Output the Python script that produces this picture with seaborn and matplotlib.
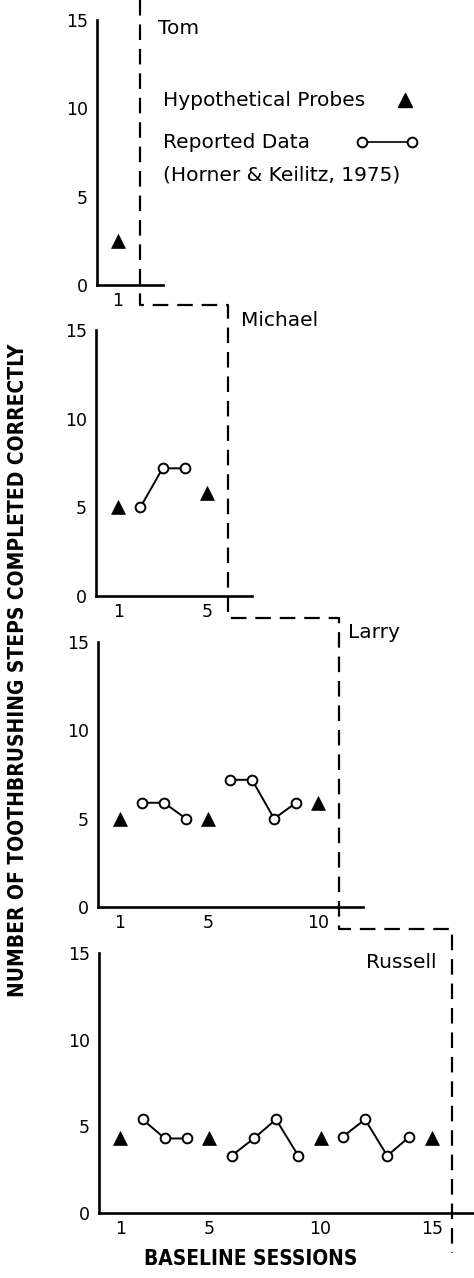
import matplotlib
matplotlib.use("Agg")
import numpy as np
import pandas as pd
import matplotlib.pyplot as plt
import seaborn as sns
from matplotlib.lines import Line2D
from matplotlib import font_manager

# ---------------- data ----------------
names = ["Tom", "Michael", "Larry", "Russell"]
probe_sessions = [[1], [1, 5], [1, 5, 10], [1, 5, 10, 15]]
probe_values = [[2.5], [5.0, 5.8], [5.0, 5.0, 5.9], [4.3, 4.3, 4.3, 4.3]]
reported_sessions = [
    [],
    [[2, 3, 4]],
    [[2, 3, 4], [6, 7, 8, 9]],
    [[2, 3, 4], [6, 7, 8, 9], [11, 12, 13, 14]],
]
reported_values = [
    [],
    [[5.0, 7.2, 7.2]],
    [[5.9, 5.9, 5.0], [7.2, 7.2, 5.0, 5.9]],
    [[5.4, 4.3, 4.3], [3.3, 4.3, 5.4, 3.3], [4.4, 5.4, 3.3, 4.4]],
]
phase_change = [1.97, 5.97, 10.95, 15.92]
x_ticks = [[1], [1, 5], [1, 5, 10], [1, 5, 10, 15]]
y_ticks = [0, 5, 10, 15]
ylabel_text = "NUMBER OF TOOTHBRUSHING STEPS COMPLETED CORRECTLY"
xlabel_text = "BASELINE SESSIONS"
legend_probe = "Hypothetical Probes"
legend_rep1 = "Reported Data"
legend_rep2 = "(Horner & Keilitz, 1975)"

# ---------------- style ----------------
sns.set_theme(style="white")
plt.rcParams["font.family"] = ["DejaVu Sans"]
plt.rcParams["axes.linewidth"] = 1.9

W, H = 474, 1278
fig = plt.figure(figsize=(W / 100, H / 100), dpi=100)


def fx(px):
    return px / W


def fy(py):
    return 1 - py / H


# condensed bold font search
def find_condensed_bold():
    best = None
    for f in font_manager.fontManager.ttflist:
        st = f.stretch
        cond = (isinstance(st, str) and "condensed" in st) or (isinstance(st, (int, float)) and st < 500)
        if "Narrow" in f.name or "Condensed" in f.name:
            cond = True
        if not cond:
            continue
        w = f.weight
        bold = (isinstance(w, str) and w in ("bold", "heavy", "black", "extra bold", "demibold", "semibold")) or (
            isinstance(w, (int, float)) and w >= 600)
        score = (2 if bold else 0) + (1 if f.style == "normal" else 0)
        if best is None or score > best[0]:
            best = (score, f)
    if best is None:
        return font_manager.FontProperties(family="DejaVu Sans", weight="bold")
    return font_manager.FontProperties(fname=best[1].fname)


cond_fp = find_condensed_bold()

panel_box = [(97, 163, 20, 285), (96, 252, 330, 596), (98, 363, 642, 907), (99, 474, 953, 1213)]
panel_xlim = [(0.05, 3.03), (0.0, 7.03), (0.0, 12.04), (0.04, 16.9)]
conn_drop = [20, 22, 22, 40]
name_off = [(18, -9, "left"), (13, 10, "left"), (9, 9, "left"), (-16, -10, "right")]

axes = []
for i in range(4):
    l, r, t, b = panel_box[i]
    ax = fig.add_axes([fx(l), fy(b), (r - l) / W, (b - t) / H])
    ax.set_facecolor("none")
    axes.append(ax)

    # reported data
    rows = []
    for run, (ss, vv) in enumerate(zip(reported_sessions[i], reported_values[i])):
        for s, v in zip(ss, vv):
            rows.append({"session": s, "steps": v, "run": run})
    if rows:
        df_rep = pd.DataFrame(rows)
        sns.lineplot(data=df_rep, x="session", y="steps", units="run", estimator=None,
                     color="black", lw=1.4, marker="o", markersize=7,
                     markerfacecolor="white", markeredgecolor="black", markeredgewidth=1.4,
                     ax=ax, legend=False, sort=False, zorder=3)

    df_probe = pd.DataFrame({"session": probe_sessions[i], "steps": probe_values[i]})
    sns.scatterplot(data=df_probe, x="session", y="steps", marker="^", s=100,
                    color="black", edgecolor="black", linewidth=0.5, ax=ax, zorder=4, legend=False)

    ax.set_xlim(*panel_xlim[i])
    ax.set_ylim(0, 15)
    ax.set_xticks(x_ticks[i])
    ax.set_yticks(y_ticks)
    ax.set_xlabel("")
    ax.set_ylabel("")
    ax.tick_params(axis="both", length=0, labelsize=12.5, colors="black")
    ax.tick_params(axis="y", pad=6.5)
    ax.tick_params(axis="x", pad=5)
    for sp in ["top", "right"]:
        ax.spines[sp].set_visible(False)
    for sp in ["left", "bottom"]:
        ax.spines[sp].set_color("black")
        ax.spines[sp].set_linewidth(1.9)

    dx, dy, ha = name_off[i]
    ax.annotate(names[i], xy=(phase_change[i], 15), xycoords="data",
                xytext=(dx, dy), textcoords="offset pixels", ha=ha, va="center",
                fontsize=14.5, color="black", annotation_clip=False)

# staircase phase-change line
fig.canvas.draw()
pts_x, pts_y = [], []
for i, ax in enumerate(axes):
    xd = ax.transData.transform((phase_change[i], 0))[0]
    bottom_px = panel_box[i][3]
    top_y = 0 if i == 0 else panel_box[i - 1][3] + conn_drop[i - 1]
    pts_x += [xd, xd]
    pts_y += [top_y, bottom_px + conn_drop[i]]
fig.add_artist(Line2D([fx(p) for p in pts_x], [fy(p) for p in pts_y], transform=fig.transFigure,
                      color="black", lw=1.6, linestyle=(0, (7, 4)), clip_on=False))

# legend (manual)
for txt, ypx in [(legend_probe, 100), (legend_rep1, 143), (legend_rep2, 175)]:
    fig.text(fx(163), fy(ypx), txt, ha="left", va="center", fontsize=14.5, color="black")
fig.add_artist(Line2D([fx(405)], [fy(100)], transform=fig.transFigure, marker="^",
                      markersize=10, color="black", linestyle="none"))
fig.add_artist(Line2D([fx(362), fx(412)], [fy(142), fy(142)], transform=fig.transFigure,
                      marker="o", markersize=7, markerfacecolor="white", markeredgecolor="black",
                      markeredgewidth=1.4, color="black", lw=1.2))

# axis titles, sized to match the target lengths
renderer = fig.canvas.get_renderer()
yl = fig.text(fx(18), fy(670), ylabel_text, rotation=90, ha="center", va="center",
              fontproperties=cond_fp, fontsize=15, color="black")
ext = yl.get_window_extent(renderer)
yl.set_fontsize(15 * 654 / ext.height)
xl = fig.text(fx(251), fy(1249), xlabel_text, ha="center", va="top",
              fontproperties=cond_fp, fontsize=15, color="black")
ext = xl.get_window_extent(renderer)
xl.set_fontsize(15 * 213 / ext.width)

fig.savefig("out.png", dpi=100)
